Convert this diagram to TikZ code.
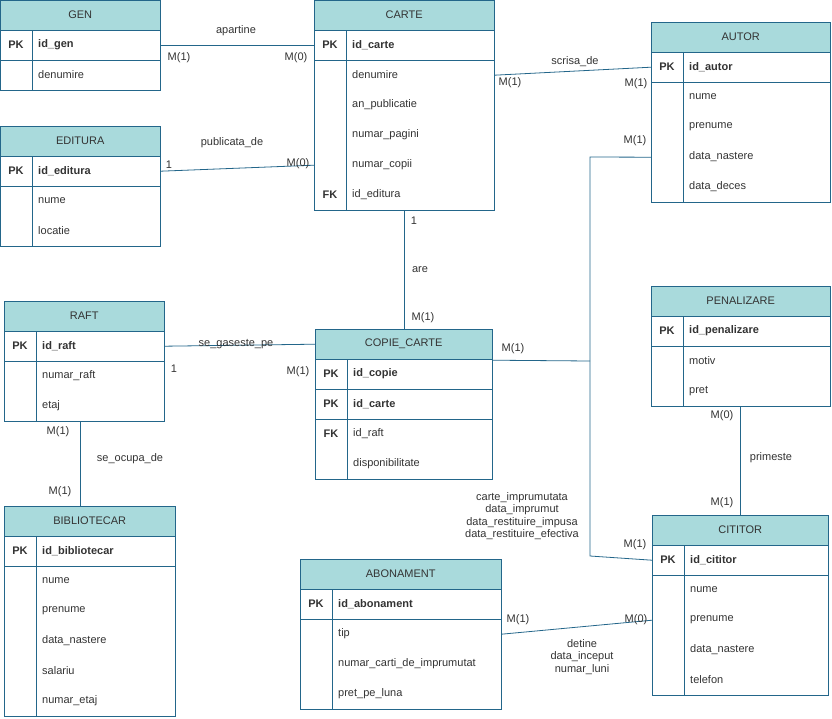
\documentclass[tikz,border=0pt]{standalone}
\usepackage{fontspec}
\setmainfont{Liberation Sans}
\definecolor{hdrc}{HTML}{A9DADC}
\definecolor{brd}{HTML}{23668A}
\definecolor{txt}{HTML}{333333}
\tikzset{
  hdr/.style={draw=brd,fill=hdrc,minimum height=30pt,inner sep=0pt,font=\fontsize{11}{13}\selectfont,text=txt},
  rowbox/.style={minimum height=30pt,inner sep=0pt},
  cell/.style={font=\fontsize{11}{13}\selectfont,text=txt,inner sep=0pt},
  lbl/.style={font=\fontsize{11}{13}\selectfont,text=txt,inner sep=0pt,align=center},
  conn/.style={draw=brd,line width=0.8pt}
}
\newcommand\ertab[7]{%
  \foreach[count=\i] \k/\t/\l in {#7} {
    \node[rowbox,minimum width=#4 pt,anchor=north west] (#1-\i) at (#2,#3+30*\i) {};
    \node[cell,font=\fontsize{11}{13}\selectfont\bfseries] at (#2+#5/2,#3+30*\i+15) {\k};
    \node[cell,anchor=west] at (#2+#5+6,#3+30*\i+15) {\t};
    \ifnum\l=1 \draw[brd,line width=0.8pt] (#2,#3+30*\i+30) -- ++(#4,0); \fi
    \xdef\lastrow{\i}
  }
  \draw[brd,line width=0.8pt] (#2,#3) rectangle (#2+#4,#3+30+30*\lastrow);
  \draw[brd,line width=0.8pt] (#2+#5,#3+30) -- (#2+#5,#3+30+30*\lastrow);
  \node[hdr,minimum width=#4 pt,anchor=north west] (#1) at (#2,#3) {#6};
}
\begin{document}
\begin{tikzpicture}[x=1pt,y=-1pt]
\useasboundingbox (0,0) rectangle (832,718);
\ertab{gen}{0}{0}{160}{32}{GEN}{PK/\textbf{id\_gen}/1, /denumire/0}
\ertab{carte}{314}{0}{180}{32}{CARTE}{PK/\textbf{id\_carte}/1, /denumire/0, /an\_publicatie/0, /numar\_pagini/0, /numar\_copii/0, FK/id\_editura/0}
\ertab{autor}{651}{22}{179}{32}{AUTOR}{PK/\textbf{id\_autor}/1, /nume/0, /prenume/0, /data\_nastere/0, /data\_deces/0}
\ertab{edit}{0}{126}{160}{32}{EDITURA}{PK/\textbf{id\_editura}/1, /nume/0, /locatie/0}
\ertab{raft}{4}{301}{160}{32}{RAFT}{PK/\textbf{id\_raft}/1, /numar\_raft/0, /etaj/0}
\ertab{copie}{315}{329}{177}{32}{COPIE\_CARTE}{PK/\textbf{id\_copie}/1, PK/\textbf{id\_carte}/1, FK/id\_raft/0, /disponibilitate/0}
\ertab{pen}{651}{286}{179}{32}{PENALIZARE}{PK/\textbf{id\_penalizare}/1, /motiv/0, /pret/0}
\ertab{bib}{4}{506}{171}{32}{BIBLIOTECAR}{PK/\textbf{id\_bibliotecar}/1, /nume/0, /prenume/0, /data\_nastere/0, /salariu/0, /numar\_etaj/0}
\ertab{abon}{300}{559}{201}{32}{ABONAMENT}{PK/\textbf{id\_abonament}/1, /tip/0, /numar\_carti\_de\_imprumutat/0, /pret\_pe\_luna/0}
\ertab{cit}{652}{515}{176}{32}{CITITOR}{PK/\textbf{id\_cititor}/1, /nume/0, /prenume/0, /data\_nastere/0, /telefon/0}

% connectors
\draw[conn] (gen-1.east) -- (carte-1.west);
\node[lbl] at (236,31) {apartine};
\node[lbl] at (179,58) {M(1)};
\node[lbl] at (296,58) {M(0)};

\draw[conn] (edit.east) ++(0,30) -- (carte-5.west);
\node[lbl] at (232,143) {publicata\_de};
\node[lbl] at (169,165) {1};
\node[lbl] at (298,164) {M(0)};

\draw[conn] (carte-2.east) -- (autor-1.west);
\node[lbl] at (575,62) {scrisa\_de};
\node[lbl] at (510,83) {M(1)};
\node[lbl] at (636,84) {M(1)};

\draw[conn] (carte-6.south -| 404,0) -- (copie.north -| 404,0);
\node[lbl] at (414,221) {1};
\node[lbl] at (420,270) {are};
\node[lbl] at (423,318) {M(1)};

\draw[conn] (raft-1.east) -- (copie.east -| copie.west);
\node[lbl] at (236,344) {se\_gaseste\_pe};
\node[lbl] at (174,369) {1};
\node[lbl] at (298,372) {M(1)};

\draw[conn] (raft-3.south -| 80,0) -- (bib.north -| 80,0);
\node[lbl] at (58,432) {M(1)};
\node[lbl] at (130,459) {se\_ocupa\_de};
\node[lbl] at (60,492) {M(1)};

\draw[conn] (pen-3.south -| 740,0) -- (cit.north -| 740,0);
\node[lbl] at (722,416) {M(0)};
\node[lbl] at (771,458) {primeste};
\node[lbl] at (722,503) {M(1)};

\coordinate (j1) at (590,157);
\coordinate (j2) at (590,556);
\coordinate (j3) at (590,361);
\draw[conn] (autor-4.west) -- (j1) -- (j2) -- (cit-1.west);
\draw[conn] (copie.east) ++(0,16) -- (j3);
\node[lbl] at (635,141) {M(1)};
\node[lbl] at (513,349) {M(1)};
\node[lbl] at (635,545) {M(1)};
\node[lbl,font=\fontsize{11}{12.5}\selectfont] at (522,516) {carte\_imprumutata\\data\_imprumut\\data\_restituire\_impusa\\data\_restituire\_efectiva};

\draw[conn] (abon-1.east) ++(0,30) -- (cit-3.west);
\node[lbl] at (518,620) {M(1)};
\node[lbl] at (636,620) {M(0)};
\node[lbl,font=\fontsize{11}{12.5}\selectfont] at (582,657) {detine\\data\_inceput\\numar\_luni};
\end{tikzpicture}
\end{document}
